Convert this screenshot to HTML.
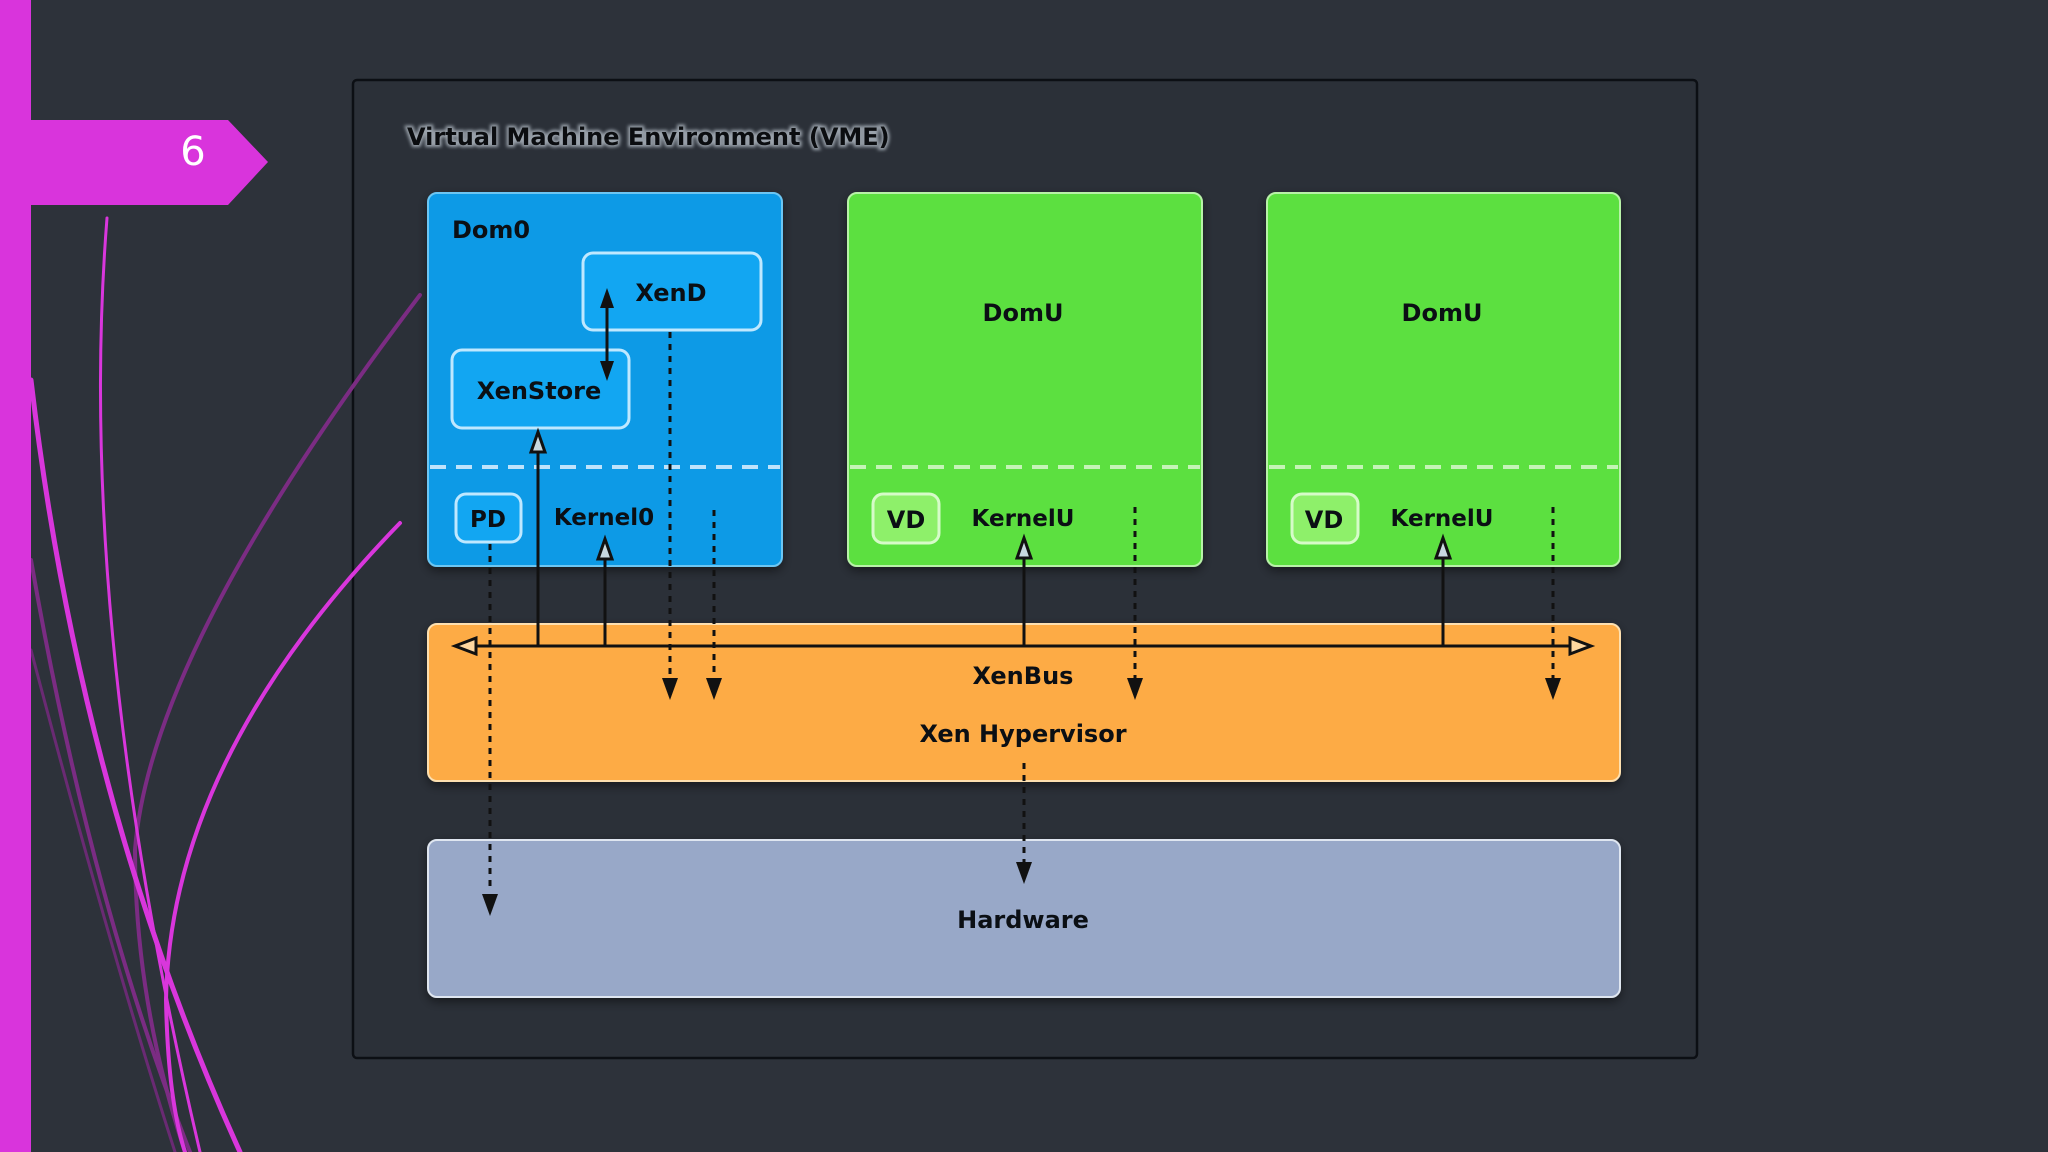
<!DOCTYPE html>
<html><head><meta charset="utf-8"><style>
html,body{margin:0;padding:0;background:#2d323a;}
svg{display:block;}
text{font-family:"DejaVu Sans","Liberation Sans",sans-serif;font-weight:bold;fill:#0b0f14;}
</style></head><body>
<svg width="2048" height="1152" viewBox="0 0 2048 1152" xmlns="http://www.w3.org/2000/svg">
<defs>
<filter id="sh" x="-5%" y="-5%" width="110%" height="115%"><feDropShadow dx="0" dy="4" stdDeviation="5" flood-color="#000" flood-opacity="0.45"/></filter>
<filter id="gl" x="-5%" y="-30%" width="110%" height="160%"><feGaussianBlur stdDeviation="1.5"/></filter>
</defs>
<rect width="2048" height="1152" fill="#2d323a"/>
<!-- frame -->
<rect x="353" y="80" width="1344" height="978" rx="4" fill="#2b3038" stroke="#0c0f14" stroke-width="2.5"/>
<!-- curves -->
<g fill="none" stroke-linecap="round">
<path d="M420 295 Q150 650 135 850 Q135 1000 185 1152" stroke="#7b2c83" stroke-width="4"/>
<path d="M31 560 Q90 900 190 1152" stroke="#7b2c83" stroke-width="4"/>
<path d="M31 650 Q110 950 175 1152" stroke="#6a2a73" stroke-width="3"/>
<path d="M107 218 Q75 620 200 1152" stroke="#d936dc" stroke-width="3"/>
<path d="M31 380 Q80 800 240 1152" stroke="#d936dc" stroke-width="5"/>
<path d="M400 523 Q170 760 166 1000 Q168 1100 185 1152" stroke="#d936dc" stroke-width="4"/>
</g>
<rect x="0" y="0" width="31" height="1152" fill="#d934dc"/>
<polygon points="31,120 228,120 268,162 228,205 31,205" fill="#d934dc"/>
<text x="193" y="165" font-size="40" style="font-weight:normal;fill:#fff" text-anchor="middle">6</text>
<text x="407" y="145" font-size="24" stroke="#9aa2ab" stroke-width="4" filter="url(#gl)" style="fill:#9aa2ab">Virtual Machine Environment (VME)</text>
<text x="407" y="145" font-size="24" style="fill:#0b0d10">Virtual Machine Environment (VME)</text>
<!-- boxes -->
<g filter="url(#sh)">
<rect x="428" y="193" width="354" height="373" rx="9" fill="#0b9ae6" stroke="#6cc6f3" stroke-width="2"/>
<rect x="848" y="193" width="354" height="373" rx="9" fill="#5ce03f" stroke="#b8f2a8" stroke-width="2"/>
<rect x="1267" y="193" width="353" height="373" rx="9" fill="#5ce03f" stroke="#b8f2a8" stroke-width="2"/>
<rect x="428" y="624" width="1192" height="157" rx="9" fill="#fdab45" stroke="#fde0b0" stroke-width="2"/>
<rect x="428" y="840" width="1192" height="157" rx="9" fill="#98a8c8" stroke="#dfe6f0" stroke-width="2"/>
</g>
<g stroke="#dff0ff" stroke-width="4" stroke-dasharray="16 10" opacity="0.85">
<line x1="430" y1="467" x2="780" y2="467"/>
<line x1="850" y1="467" x2="1200" y2="467" stroke="#d8f8cc"/>
<line x1="1269" y1="467" x2="1618" y2="467" stroke="#d8f8cc"/>
</g>
<!-- inner boxes -->
<rect x="583" y="253" width="178" height="77" rx="10" fill="#12a6f2" stroke="#bfe8ff" stroke-width="3"/>
<rect x="452" y="350" width="177" height="78" rx="10" fill="#12a6f2" stroke="#bfe8ff" stroke-width="3"/>
<rect x="456" y="494" width="65" height="48" rx="10" fill="#12a6f2" stroke="#bfe8ff" stroke-width="3"/>
<rect x="873" y="494" width="66" height="49" rx="10" fill="#8ef06a" stroke="#d6fbc8" stroke-width="3"/>
<rect x="1292" y="494" width="66" height="49" rx="10" fill="#8ef06a" stroke="#d6fbc8" stroke-width="3"/>
<!-- text -->
<text x="452" y="238" font-size="24">Dom0</text>
<text x="671" y="301" font-size="24" text-anchor="middle">XenD</text>
<text x="539" y="399" font-size="24" text-anchor="middle">XenStore</text>
<text x="488" y="527" font-size="23" text-anchor="middle">PD</text>
<text x="604" y="525" font-size="23" text-anchor="middle">Kernel0</text>
<text x="1023" y="321" font-size="24" text-anchor="middle">DomU</text>
<text x="1442" y="321" font-size="24" text-anchor="middle">DomU</text>
<text x="906" y="528" font-size="24" text-anchor="middle">VD</text>
<text x="1324" y="528" font-size="24" text-anchor="middle">VD</text>
<text x="1023" y="526" font-size="23" text-anchor="middle">KernelU</text>
<text x="1442" y="526" font-size="23" text-anchor="middle">KernelU</text>
<text x="1023" y="684" font-size="24" text-anchor="middle">XenBus</text>
<text x="1023" y="742" font-size="24" text-anchor="middle">Xen Hypervisor</text>
<text x="1023" y="928" font-size="24" text-anchor="middle">Hardware</text>
<!-- bus line -->
<line x1="465" y1="646" x2="1580" y2="646" stroke="#111" stroke-width="3"/>
<polygon points="455,646 476,638 476,654" fill="#fdd7a0" stroke="#111" stroke-width="3"/>
<polygon points="1591,646 1570,638 1570,654" fill="#fdd7a0" stroke="#111" stroke-width="3"/>
<!-- solid up arrows -->
<g stroke="#111" stroke-width="3" fill="#c8d8e0">
<line x1="538" y1="646" x2="538" y2="448"/>
<polygon points="538,432 531,452 545,452"/>
<line x1="605" y1="646" x2="605" y2="555"/>
<polygon points="605,539 598,559 612,559"/>
<line x1="1024" y1="646" x2="1024" y2="555"/>
<polygon points="1024,538 1017,558 1031,558"/>
<line x1="1443" y1="646" x2="1443" y2="555"/>
<polygon points="1443,538 1436,558 1450,558"/>
</g>
<!-- double arrow -->
<line x1="607" y1="300" x2="607" y2="370" stroke="#111" stroke-width="3"/>
<polygon points="607,288 600,308 614,308" fill="#111"/>
<polygon points="607,381 600,361 614,361" fill="#111"/>
<!-- dashed arrows -->
<g stroke="#111" stroke-width="3" stroke-dasharray="6 6" fill="none">
<line x1="490" y1="544" x2="490" y2="892"/>
<line x1="670" y1="332" x2="670" y2="680"/>
<line x1="714" y1="510" x2="714" y2="680"/>
<line x1="1135" y1="507" x2="1135" y2="680"/>
<line x1="1553" y1="507" x2="1553" y2="680"/>
<line x1="1024" y1="763" x2="1024" y2="864"/>
</g>
<g fill="#111">
<polygon points="490,916 482,894 498,894"/>
<polygon points="670,700 662,678 678,678"/>
<polygon points="714,700 706,678 722,678"/>
<polygon points="1135,700 1127,678 1143,678"/>
<polygon points="1553,700 1545,678 1561,678"/>
<polygon points="1024,884 1016,862 1032,862"/>
</g>
</svg>
</body></html>
